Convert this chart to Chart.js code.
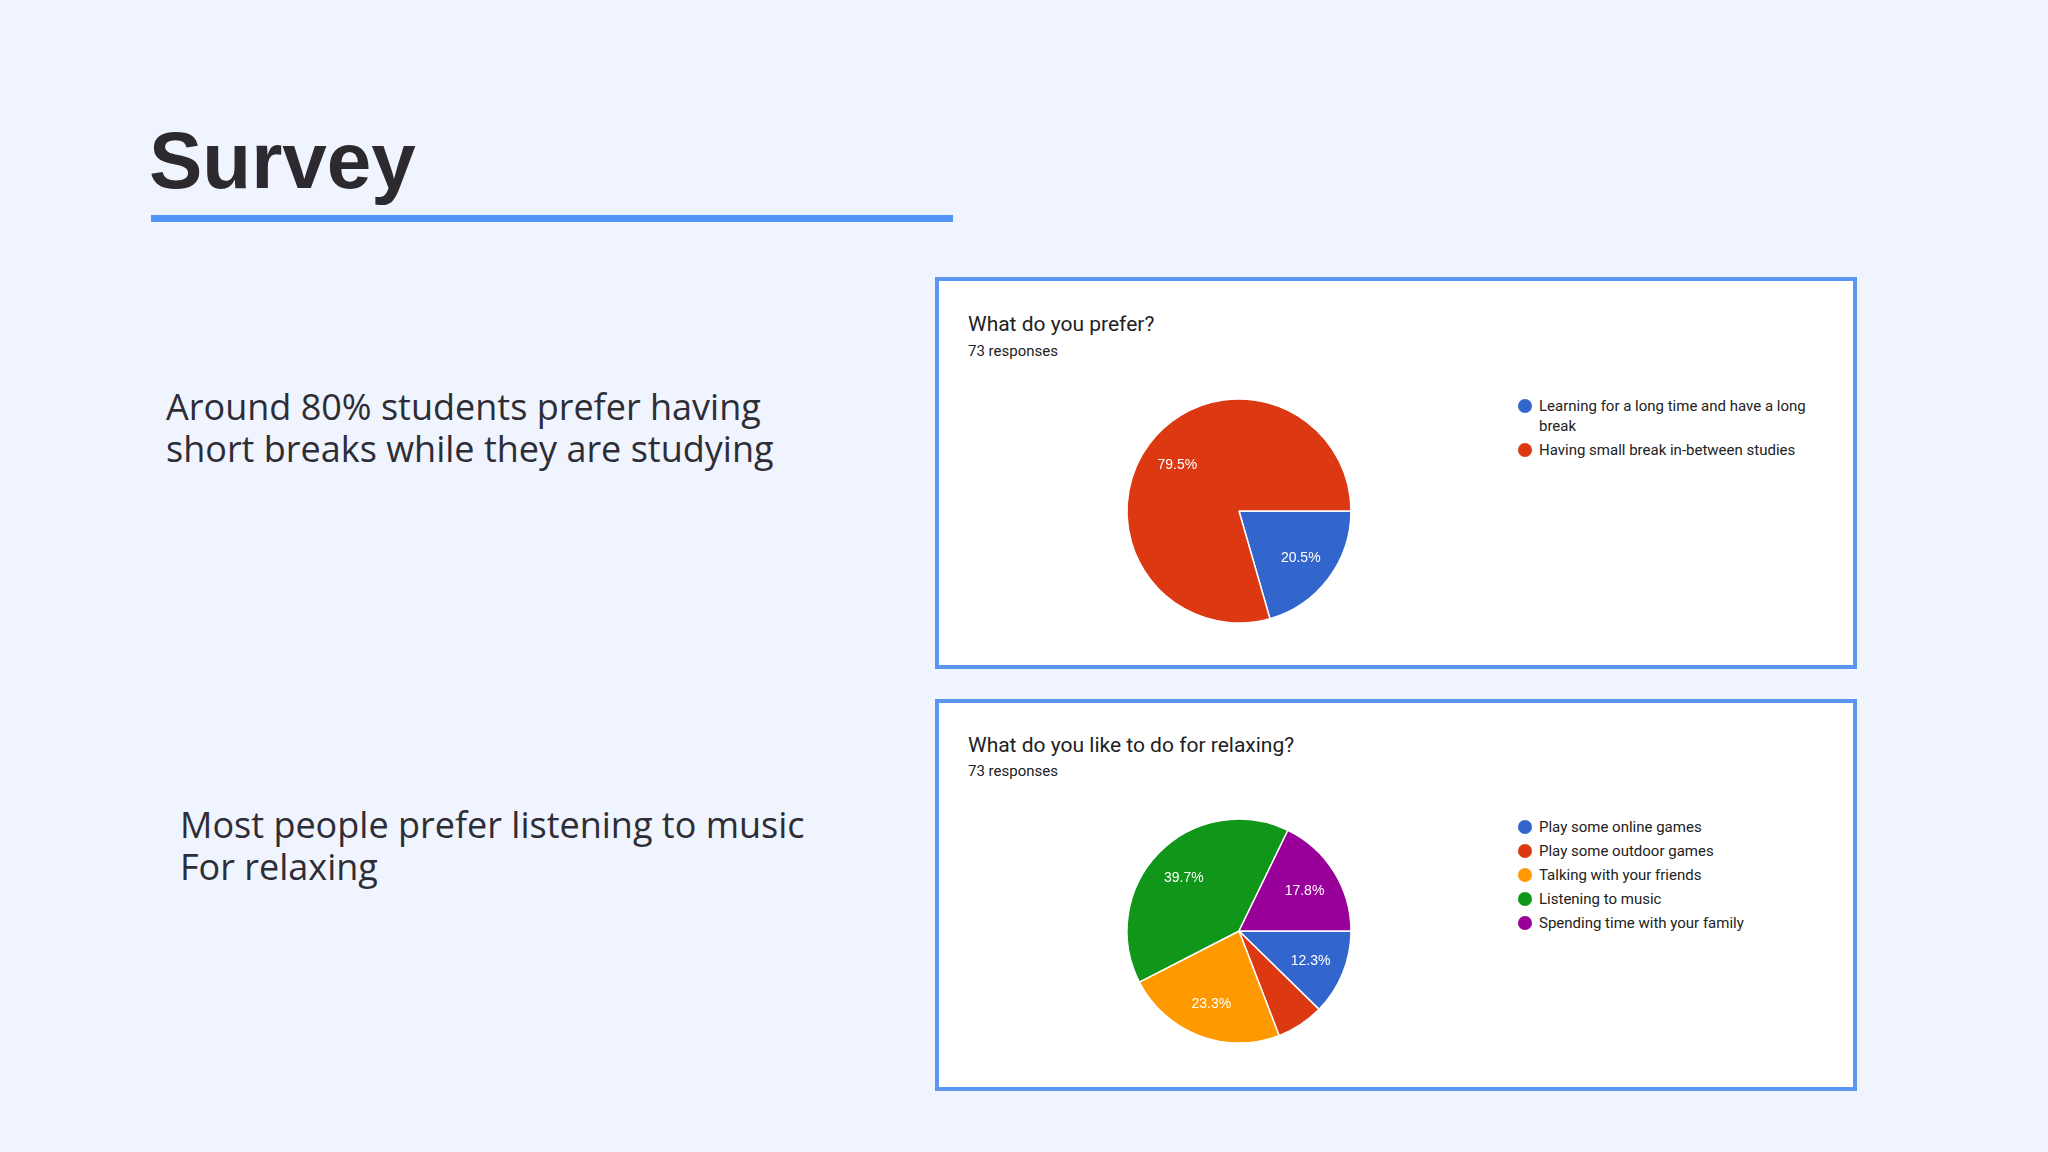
<!DOCTYPE html>
<html>
<head>
<meta charset="utf-8">
<script src="https://cdn.jsdelivr.net/npm/chart.js@4/dist/chart.umd.min.js"></script>
<style>
  html, body { margin: 0; padding: 0; }
  body { width: 2048px; height: 1152px; background: #eff4fe; position: relative; overflow: hidden; font-family: Roboto, "Liberation Sans", Arial, sans-serif; }
  .title { position: absolute; left: 149px; top: 115px; font: bold 80px "Liberation Sans", Arial, sans-serif; color: #2d2a2f; }
  .rule { position: absolute; left: 151px; top: 215px; width: 802px; height: 7px; background: #5195f6; }
  .note { position: absolute; font-family: "Open Sans", sans-serif; font-size: 36px; line-height: 42px; height: 42px; color: #2e2d36; white-space: nowrap; }
  .card { position: absolute; left: 935px; width: 914px; height: 384px; border: 4px solid #5b97f0; background: #fff; }
  .card h3 { position: absolute; left: 29px; margin: 0; font-weight: 400; font-size: 21px; color: #202124; }
  .card .resp { position: absolute; left: 29px; font-size: 15px; color: #202124; }
  .card canvas { position: absolute; }
  .legend { position: absolute; left: 579px; width: 300px; font-size: 15px; color: #222; }
  .legend .item { position: relative; padding-left: 21px; line-height: 20px; margin-bottom: 4px; }
  .legend .dot { position: absolute; left: 0; top: 3px; width: 14px; height: 14px; border-radius: 50%; }
</style>
</head>
<body>
<div class="title">Survey</div>
<div class="rule"></div>
<div class="note" style="left:166px; top:386px;">Around 80% students prefer having</div>
<div class="note" style="left:166px; top:428px;">short breaks while they are studying</div>
<div class="note" style="left:180px; top:804px;">Most people prefer listening to music</div>
<div class="note" style="left:180px; top:846px;">For relaxing</div>

<div class="card" style="top:277px;">
  <h3 style="top:31px;">What do you prefer?</h3>
  <div class="resp" style="top:61px;">73 responses</div>
  <canvas id="pie1" width="240" height="240" style="left:180px; top:110px;"></canvas>
  <div class="legend" id="legend1" style="top:115px;"></div>
</div>

<div class="card" style="top:699px;">
  <h3 style="top:30px;">What do you like to do for relaxing?</h3>
  <div class="resp" style="top:59px;">73 responses</div>
  <canvas id="pie2" width="240" height="240" style="left:180px; top:108px;"></canvas>
  <div class="legend" id="legend2" style="top:114px;"></div>
</div>

<script>
// question 1
const preferLabels = ["Learning for a long time and have a long break", "Having small break in-between studies"];
const preferCounts = [15, 58];

// question 2
const relaxLabels = ["Play some online games", "Play some outdoor games", "Talking with your friends", "Listening to music", "Spending time with your family"];
const relaxCounts = [9, 5, 17, 29, 13];

const googleColors = ["#3366cc", "#dc3912", "#ff9900", "#109618", "#990099"];

// percentage text inside the slices, google forms style
const pctLabels = {
  id: "pctLabels",
  afterDatasetsDraw(chart) {
    const ctx = chart.ctx;
    const meta = chart.getDatasetMeta(0);
    const data = chart.data.datasets[0].data;
    const total = data.reduce((a, b) => a + b, 0);
    ctx.save();
    ctx.fillStyle = "#fff";
    ctx.font = '14px "Liberation Sans", Arial, sans-serif';
    ctx.textAlign = "center";
    ctx.textBaseline = "middle";
    meta.data.forEach((arc, i) => {
      const pct = data[i] / total * 100;
      if (pct < 10) return; // google hides the small ones
      const mid = (arc.startAngle + arc.endAngle) / 2;
      const r = arc.outerRadius * 0.69;
      ctx.fillText(pct.toFixed(1) + "%", arc.x + Math.cos(mid) * r, arc.y + Math.sin(mid) * r + 1);
    });
    ctx.restore();
  }
};

function makePie(id, labels, counts) {
  new Chart(document.getElementById(id), {
    type: "pie",
    data: {
      labels,
      datasets: [{
        data: counts,
        backgroundColor: googleColors.slice(0, counts.length),
        borderColor: "#fff",
        borderWidth: 1.5
      }]
    },
    options: {
      responsive: false,
      animation: false,
      rotation: 90,
      radius: 112,
      layout: { padding: 0 },
      plugins: { legend: { display: false }, tooltip: { enabled: false } }
    },
    plugins: [pctLabels]
  });
}

function makeLegend(id, labels) {
  const box = document.getElementById(id);
  box.innerHTML = labels.map((l, i) =>
    `<div class="item"><span class="dot" style="background:${googleColors[i]}"></span>${l}</div>`
  ).join("");
}

makePie("pie1", preferLabels, preferCounts);
makePie("pie2", relaxLabels, relaxCounts);
makeLegend("legend1", preferLabels);
makeLegend("legend2", relaxLabels);
</script>
</body>
</html>
